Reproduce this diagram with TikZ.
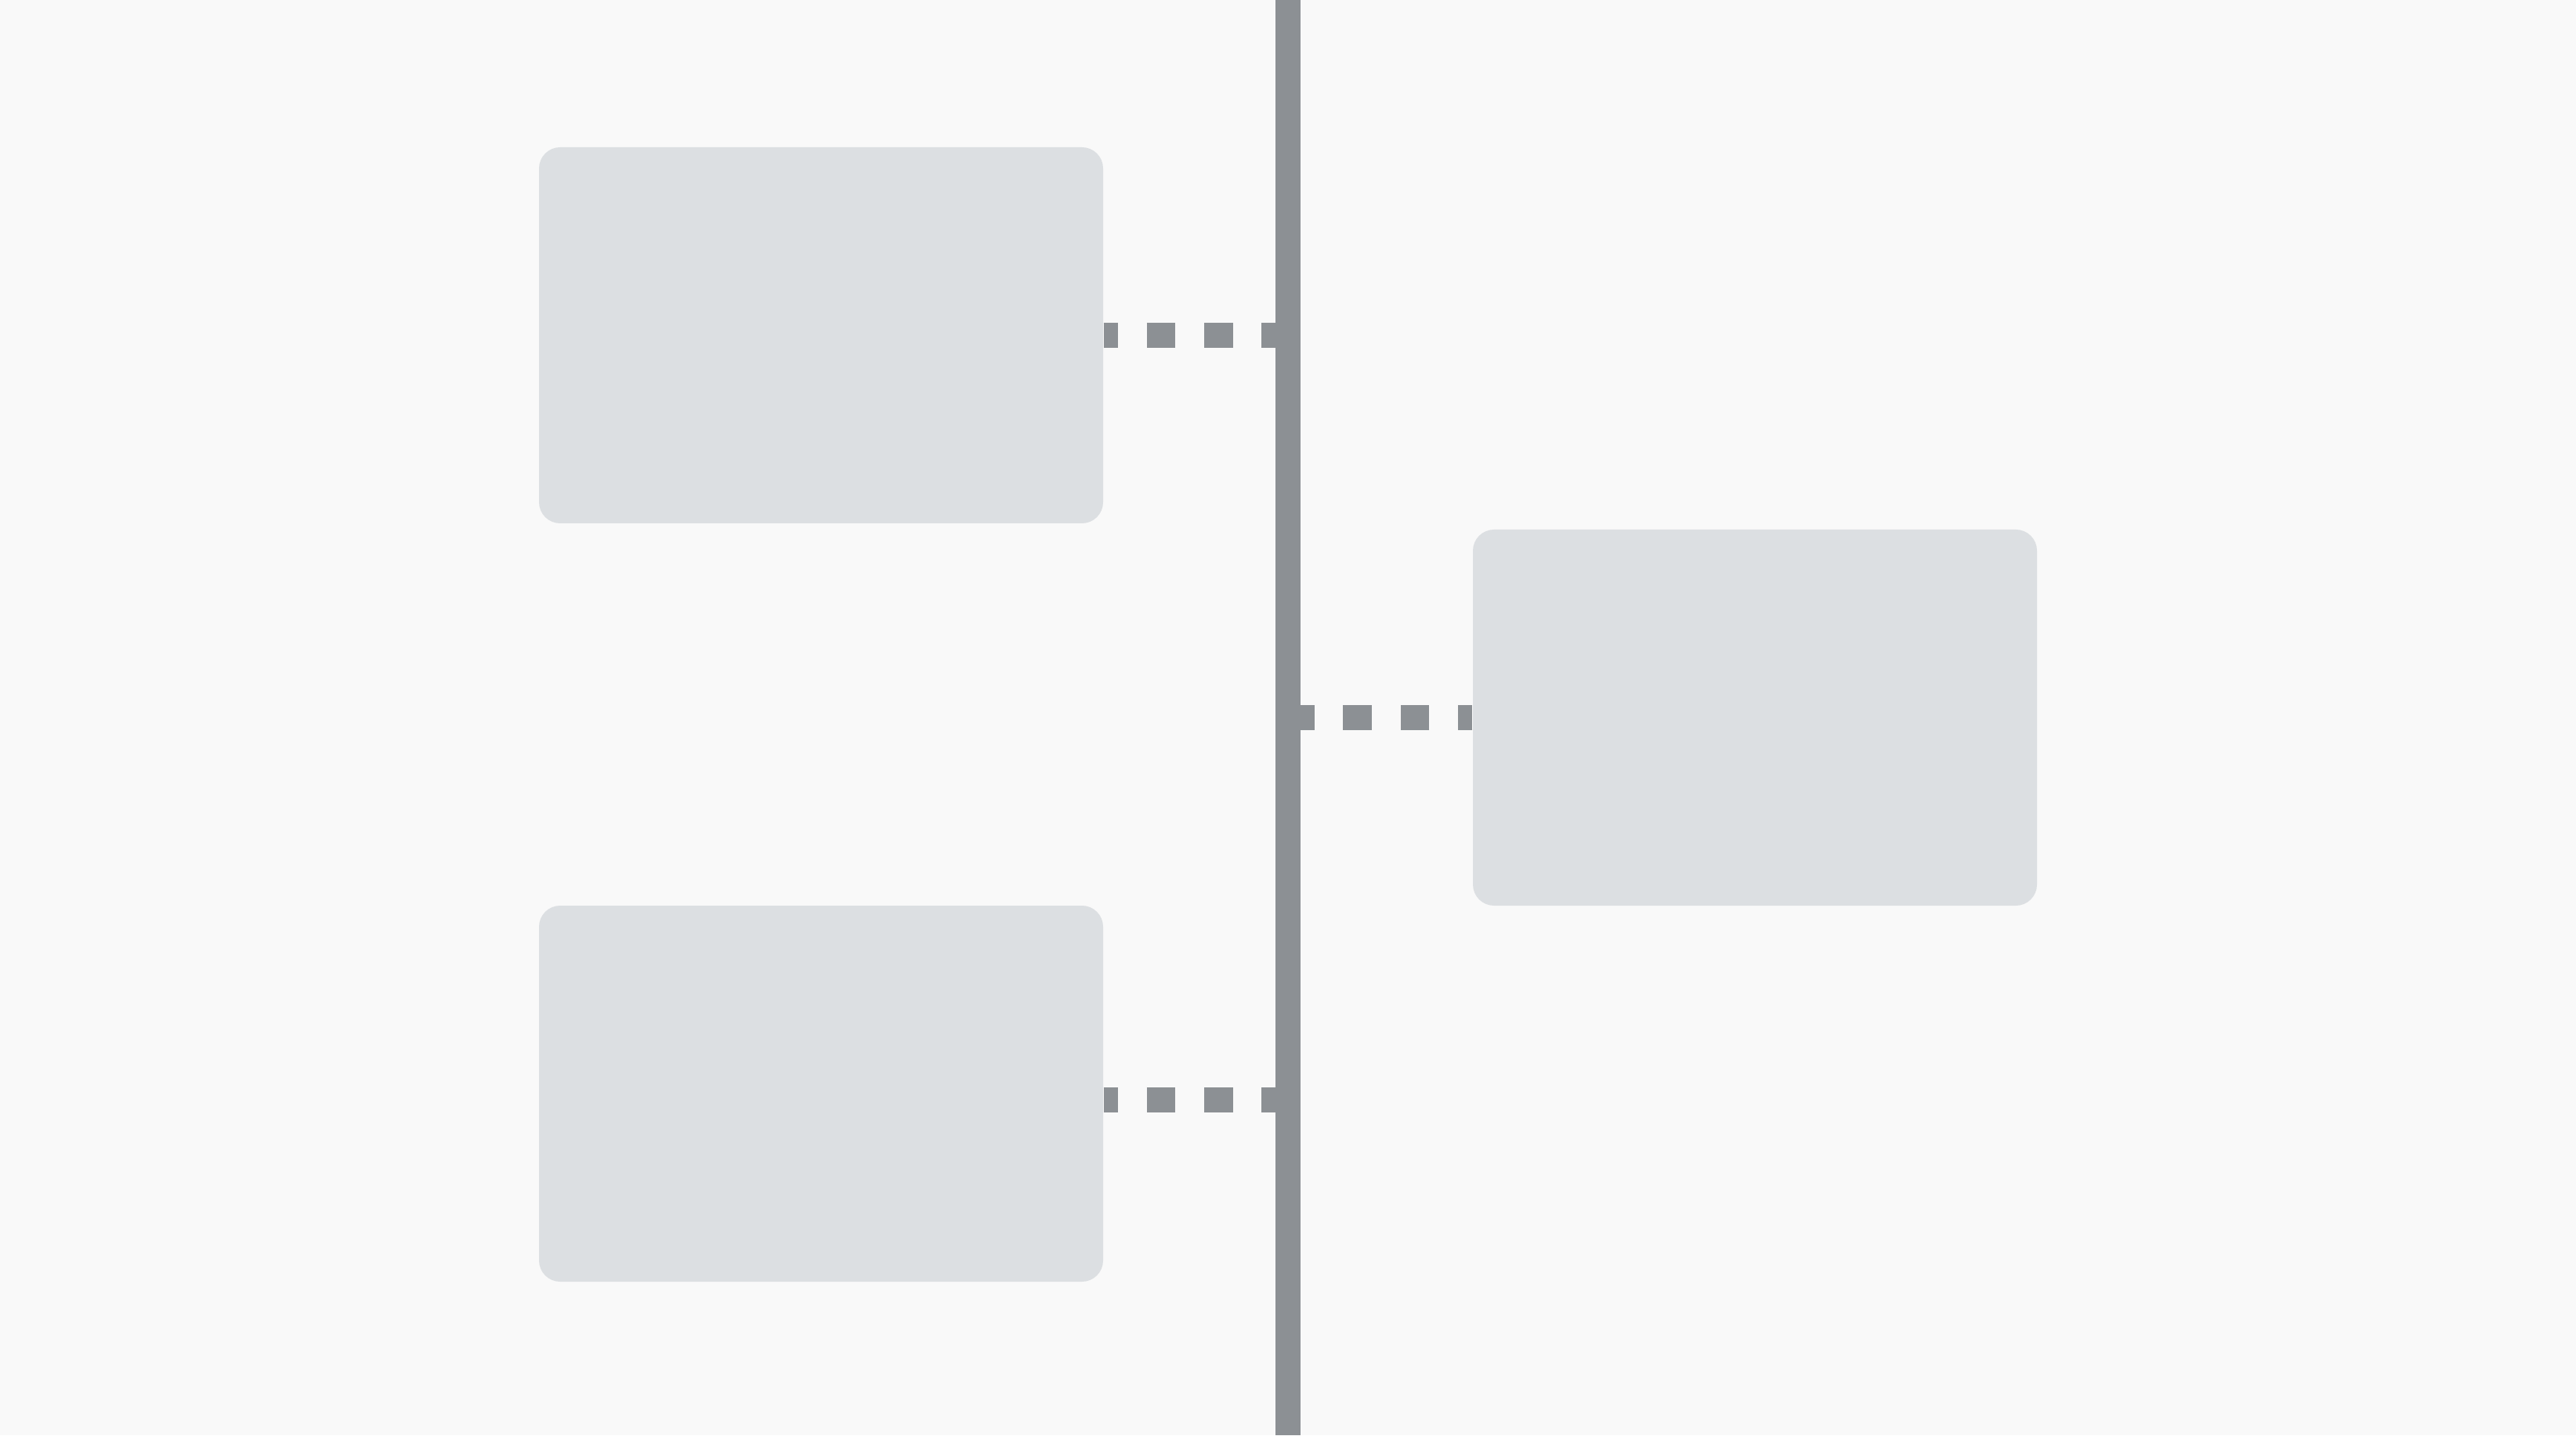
\documentclass[tikz,border=0pt]{standalone}
\usepackage{xcolor}
\usepackage{tikz}
\usetikzlibrary{calc, positioning}
\definecolor{bgcol}{HTML}{F9F9F9}
\definecolor{panelcol}{HTML}{DCDFE2}
\definecolor{spinecol}{HTML}{8C9094}
\tikzset{
    panel/.style={rectangle, fill=panelcol, draw=none, rounded corners=0.27cm, minimum width=7.2cm, minimum height=4.8cm, inner sep=0pt},
    spine/.style={draw=spinecol, line width=0.32cm, line cap=butt},
    link/.style={draw=spinecol, line width=0.32cm, line cap=butt, dash pattern=on 0.3667cm off 0.3667cm, dash phase=0.1833cm}
}

\begin{document}
\begin{tikzpicture}
        % Background
        \fill[bgcol] (0,0) rectangle (32.88,18.32);
        \useasboundingbox (0,0) rectangle (32.88,18.32);

        % Panels
        \node[panel] (topbox) at (10.48,14.04) {};
        \node[panel] (midbox) at (22.40,9.16) {};
        \node[panel] (lowbox) at (10.48,4.36) {};

        % Points on the spine
        \coordinate (spinetop) at (16.44,18.32);
        \coordinate (spinebot) at (16.44,0);
        \coordinate (s1) at (16.44,14.04);
        \coordinate (s2) at (16.44,9.16);
        \coordinate (s3) at (16.44,4.28);

        % Dashed links from panels to spine
        \draw[link] (topbox.east) -- (s1);
        \draw[link] (midbox.west) -- (s2);
        \draw[link] (lowbox.east |- s3) -- (s3);

        % Spine
        \draw[spine] (spinetop) -- (spinebot);
    \end{tikzpicture}
\end{document}
